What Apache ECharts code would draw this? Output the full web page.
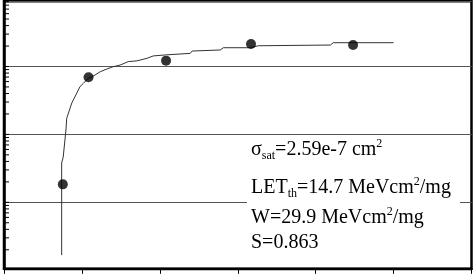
<!DOCTYPE html>
<html>
<head>
<meta charset="utf-8">
<script src="https://cdn.jsdelivr.net/npm/echarts@6/dist/echarts.min.js"></script>
<style>html,body{margin:0;padding:0;background:#fff}#c{width:474px;height:274px}</style>
</head>
<body>
<div id="c"></div>
<script>
// Fitted Weibull curve
const curveLET = [14.8, 14.8, 15.2, 15.9, 16.1, 17.4, 18.7, 19.5, 20.4, 21.6, 23.4, 24.7, 26.4, 28.0, 29.8, 31.9, 34.1, 36.7, 38.3, 41.4, 41.9, 47.8, 48.3, 55.5, 56.3, 63.2, 65.3, 83.8, 84.5, 100.0];
const curveSigma = [1.67e-10, 3.79e-9, 4.65e-9, 1.16e-8, 1.73e-8, 2.90e-8, 4.07e-8, 5.05e-8, 5.67e-8, 6.66e-8, 7.50e-8, 8.38e-8, 9.19e-8, 9.93e-8, 1.05e-7, 1.18e-7, 1.21e-7, 1.32e-7, 1.43e-7, 1.48e-7, 1.56e-7, 1.56e-7, 1.69e-7, 1.75e-7, 1.89e-7, 1.89e-7, 2.02e-7, 2.07e-7, 2.24e-7, 2.24e-7];
// Measured points
const pointLET = [15.1, 21.7, 41.6, 63.4, 89.6];
const pointSigma = [1.84e-9, 6.93e-8, 1.22e-7, 2.14e-7, 2.07e-7];
// Axis settings
const xMin = 0, xMax = 120, xInterval = 20;
const yMin = 1.05e-10, yMax = 9.12e-7;
const yMinorTicks = [];
[1e-10, 1e-9, 1e-8, 1e-7].forEach(d => { for (let k = 1; k <= 9; k++) { const v = k * d; if (v >= yMin && v <= yMax) yMinorTicks.push(+v.toPrecision(3)); } });
// Annotation lines
const textLines = [
  '{m|σ}{sub|sat}{m|=2.59e-7 cm}{sup|2}',
  '{m|LET}{sub|th}{m|=14.7 MeVcm}{sup|2}{m|/mg}',
  '{m|W=29.9 MeVcm}{sup|2}{m|/mg}',
  '{m|S=0.863}'
];
const textTops = [137.5, 175.5, 205.5, 230.5];

const rich = {
  m: { fontSize: 20, fontFamily: 'Liberation Serif', fill: '#000', lineHeight: 24 },
  sub: { fontSize: 12, fontFamily: 'Liberation Serif', fill: '#000', lineHeight: 12, verticalAlign: 'bottom' },
  sup: { fontSize: 12, fontFamily: 'Liberation Serif', fill: '#000', lineHeight: 12, verticalAlign: 'top' }
};

const chart = echarts.init(document.getElementById('c'));
const graphics = [{ type: 'rect', shape: { x: 247, y: 140, width: 213, height: 118 }, style: { fill: '#fff' }, z: 20, silent: true }];
textLines.forEach((t, i) => graphics.push({ type: 'text', x: 251, y: textTops[i], z: 21, style: { text: t, rich: rich, verticalAlign: 'top', align: 'left' }, silent: true }));

chart.setOption({
  animation: false,
  backgroundColor: '#fff',
  grid: { left: 4, right: 2.5, top: 1.3, bottom: 5.2, show: true, borderColor: '#000', borderWidth: 2.5, containLabel: false },
  xAxis: {
    type: 'value', min: xMin, max: xMax, interval: xInterval,
    axisLine: { show: true, onZero: false, lineStyle: { color: '#000', width: 2.3 } },
    axisTick: { show: true, inside: false, length: 5, lineStyle: { color: '#000', width: 1 } },
    axisLabel: { show: false },
    splitLine: { show: false }
  },
  yAxis: {
    type: 'log', logBase: 10, min: yMin, max: yMax,
    axisLine: { show: true, onZero: false, lineStyle: { color: '#000', width: 2.5 } },
    axisTick: { show: false },
    axisLabel: { show: false },
    splitLine: { show: true, lineStyle: { color: '#555', width: 1 } }
  },
  graphic: graphics,
  series: [
    {
      type: 'custom', silent: true, clip: false, z: 5,
      data: yMinorTicks.map(v => [xMin, v]),
      renderItem: function (params, api) {
        const p = api.coord([api.value(0), api.value(1)]);
        return { type: 'line', shape: { x1: p[0], y1: p[1], x2: p[0] + 5, y2: p[1] }, style: { stroke: '#000', lineWidth: 1 } };
      }
    },
    {
      type: 'line', data: curveLET.map((x, i) => [x, curveSigma[i]]),
      showSymbol: false, smooth: false, silent: true,
      lineStyle: { color: '#333', width: 1 }
    },
    {
      type: 'scatter', data: pointLET.map((x, i) => [x, pointSigma[i]]),
      symbol: 'circle', symbolSize: 10, itemStyle: { color: '#000' }, silent: true, z: 6
    }
  ]
});
</script>
</body>
</html>
